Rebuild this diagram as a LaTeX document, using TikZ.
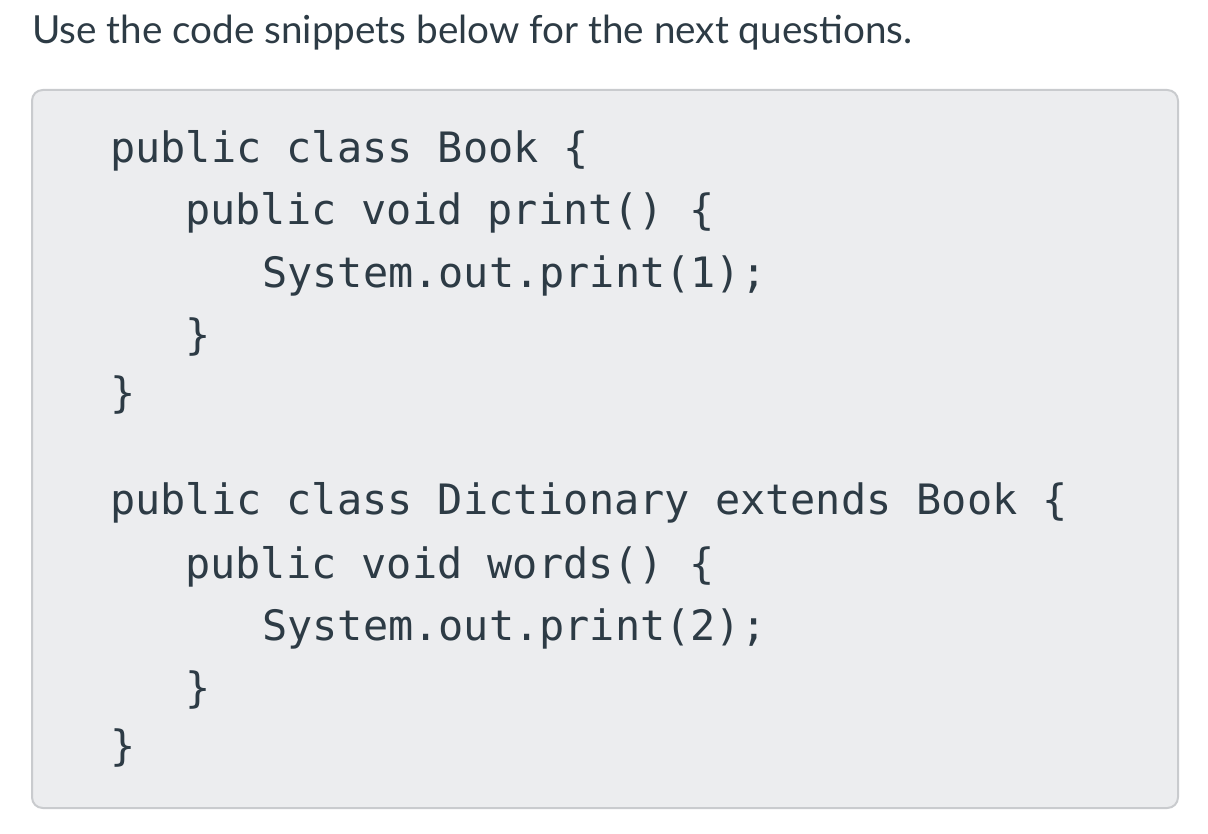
\documentclass[tikz,border=0pt]{standalone}
\usepackage{fontspec}
\setmainfont{Lato}
\setmonofont{DejaVu Sans Mono}
\definecolor{boxfill}{HTML}{ECEDEF}
\definecolor{boxline}{HTML}{C9CBCE}
\definecolor{txt}{HTML}{2D3B45}
\begin{document}
\begin{tikzpicture}[x=0.75pt,y=-0.75pt,
  code/.style={anchor=base west,inner sep=0pt,text=txt,font=\ttfamily\fontsize{31.4}{31.4}\selectfont}]
\useasboundingbox (0,0) rectangle (1208,834);
\node[anchor=base west,inner sep=0pt,text=txt,font=\fontsize{29}{29}\selectfont] (title) at (32,44) {Use the code snippets below for the next questions.};
\draw[boxline,fill=boxfill,line width=1.5pt,rounded corners=8pt] (32,90) rectangle (1178,808);
\node[code] (l1) at (110,163) {public class Book \{};
\node[code] (l2) at (185,225) {public void print() \{};
\node[code] (l3) at (262,288) {System.out.print(1);};
\node[code] (l4) at (185,350) {\}};
\node[code] (l5) at (110,408) {\}};
\node[code] (l6) at (110,515) {public class Dictionary extends Book \{};
\node[code] (l7) at (185,578) {public void words() \{};
\node[code] (l8) at (262,640) {System.out.print(2);};
\node[code] (l9) at (185,702) {\}};
\node[code] (l10) at (110,760) {\}};
\end{tikzpicture}
\end{document}
